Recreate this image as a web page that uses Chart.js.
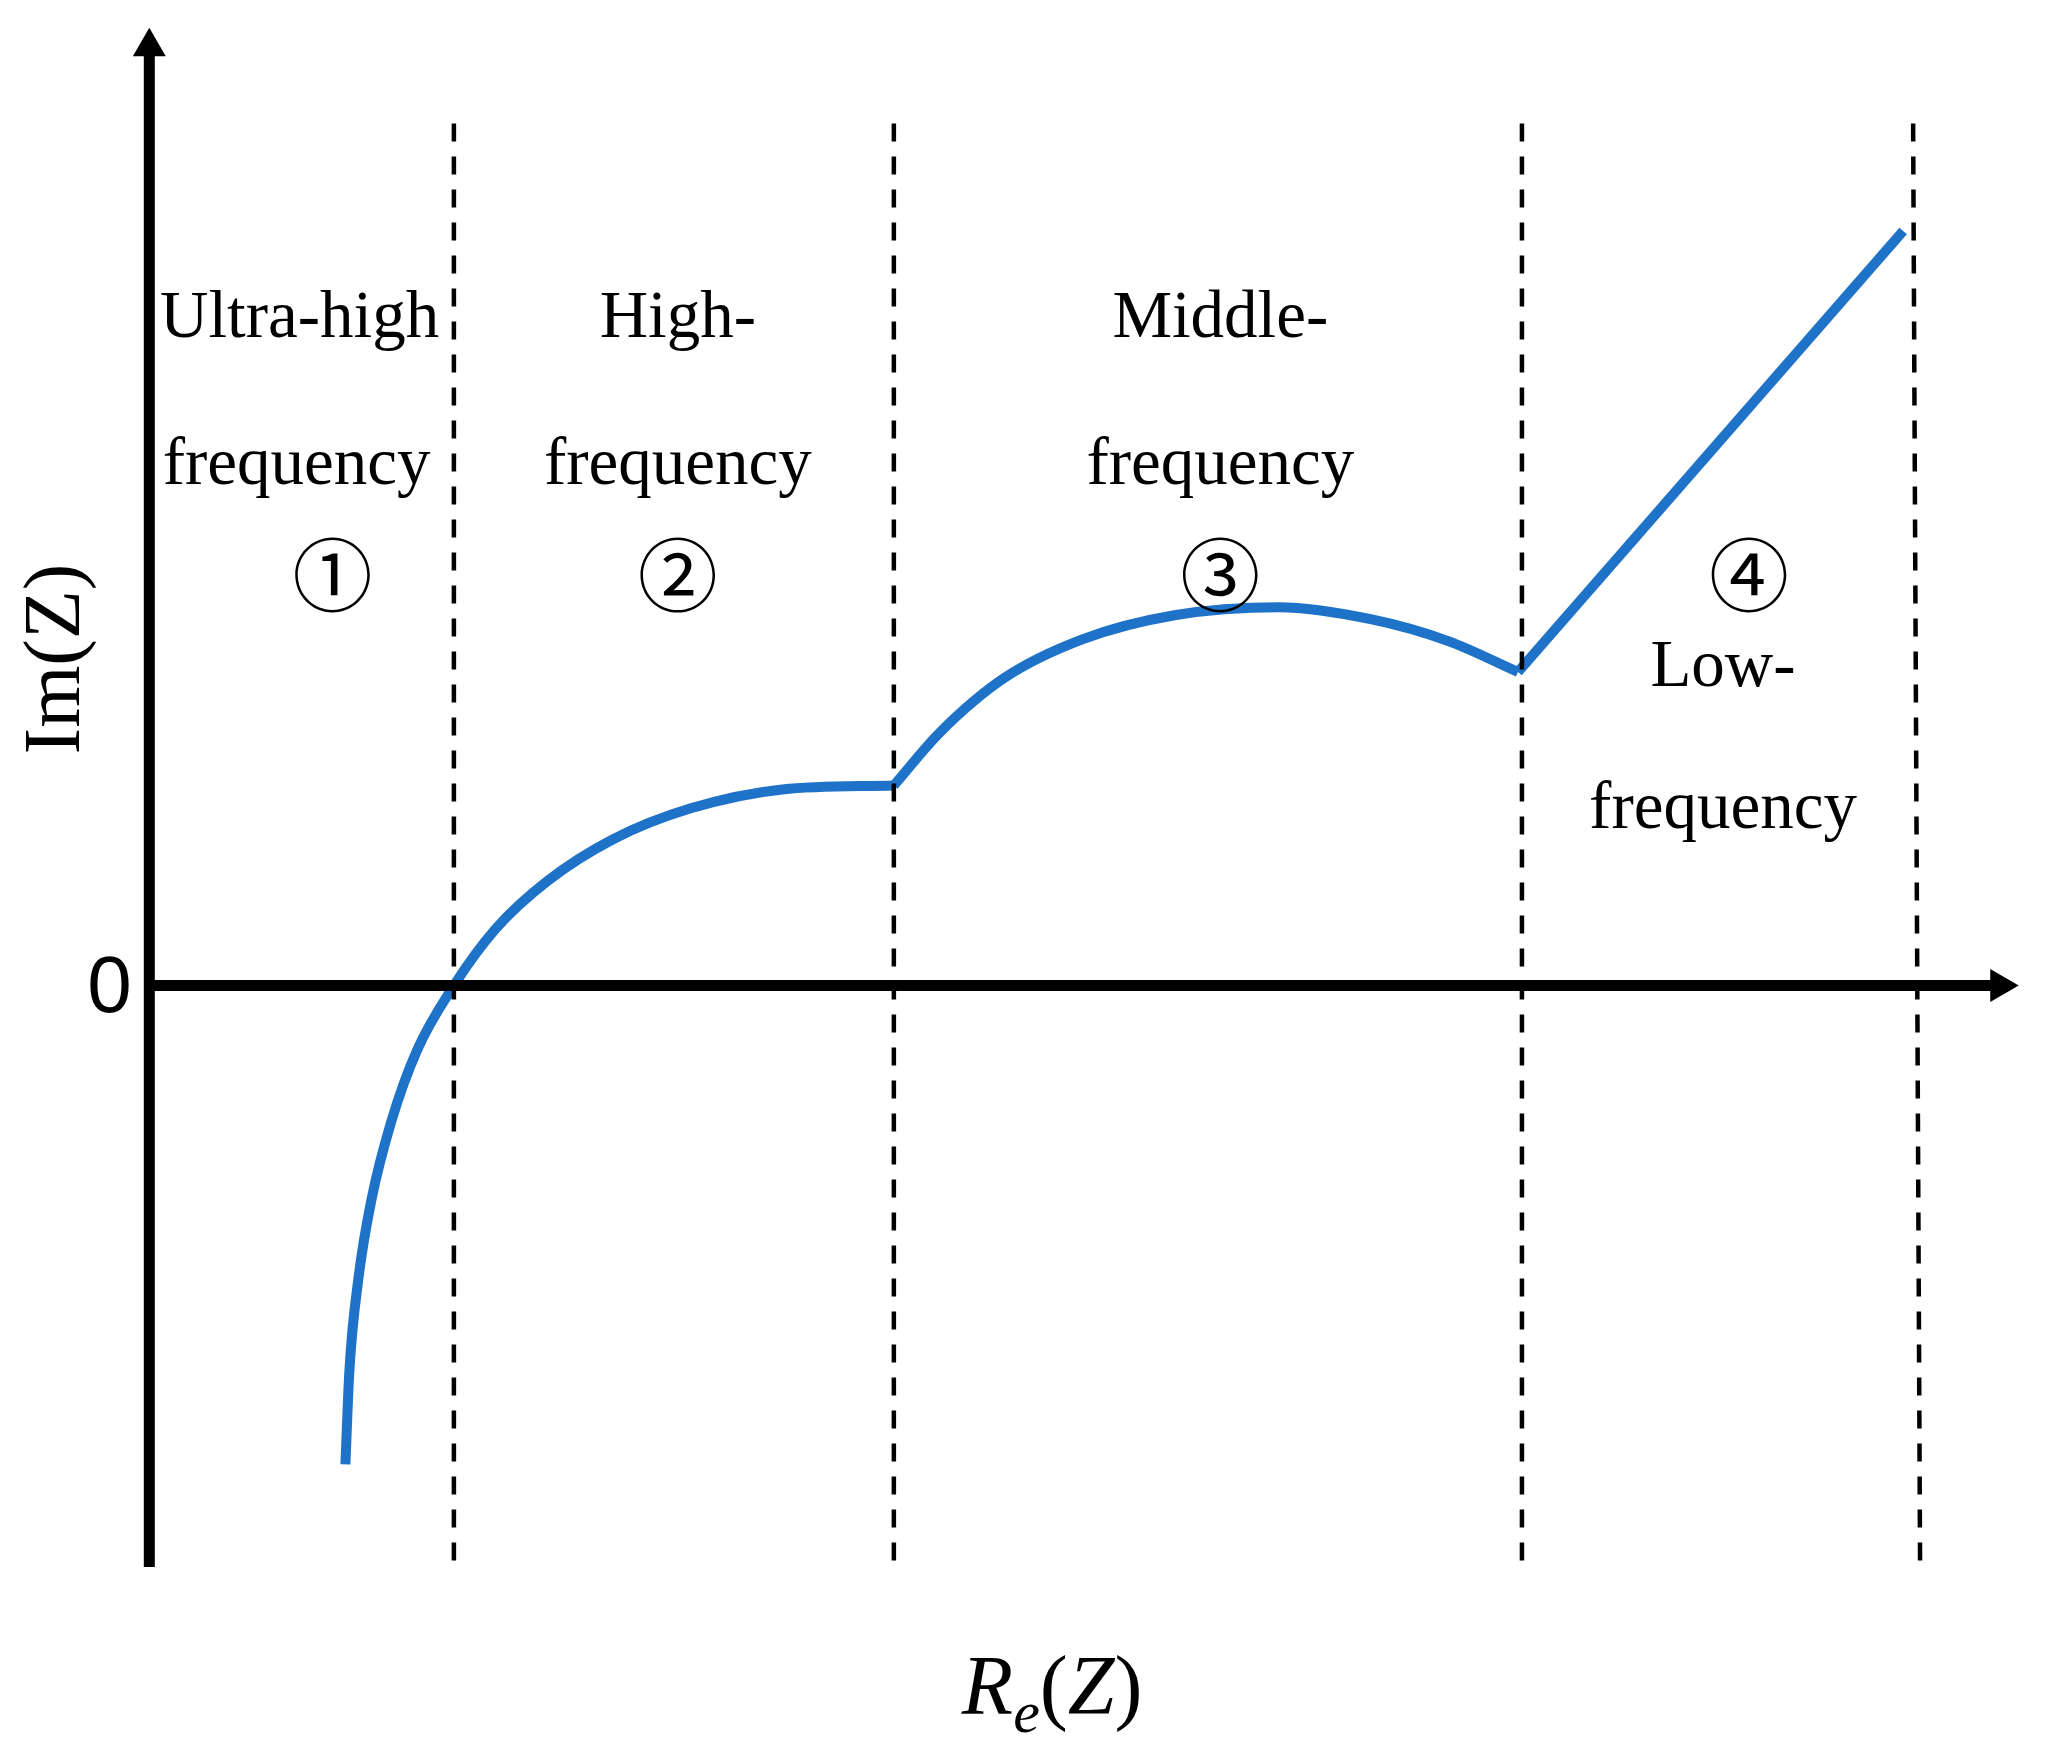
<!DOCTYPE html>
<html>
<head>
<meta charset="utf-8">
<script src="https://cdn.jsdelivr.net/npm/chart.js@4/dist/chart.umd.min.js"></script>
<style>
  html, body { margin: 0; padding: 0; background: #fff; overflow: hidden; }
  #wrap { position: relative; width: 2047px; height: 1761px; }
</style>
</head>
<body>
<div id="wrap"><canvas id="nyquist"></canvas></div>
<script>
// Nyquist sketch, arbitrary units (Re to the right, Im up)
var arc1Re = [1.97, 2.01, 2.10, 2.23, 2.43, 2.69, 3.06, 3.48, 4.00, 4.66, 5.44, 6.36, 7.48];
var arc1Im = [-4.81, -3.87, -2.95, -2.16, -1.37, -0.65, 0.00, 0.57, 1.05, 1.47, 1.78, 1.97, 2.01];
var arc2Re = [7.48, 7.94, 8.59, 9.38, 10.30, 11.35, 12.27, 13.05, 13.75];
var arc2Im = [2.01, 2.54, 3.09, 3.48, 3.72, 3.80, 3.68, 3.46, 3.15];
var tailRe = [13.75, 17.62];
var tailIm = [3.15, 7.58];

// region boundaries (dashed), top and bottom x can differ slightly
var boundTopRe = [3.06, 7.48, 13.79, 17.72];
var boundBotRe = [3.06, 7.48, 13.79, 17.79];
var boundIm = [8.66, -5.84];

// axes
var axisReEnd = 18.59;
var axisImEnds = [-5.84, 9.43];

// region text
var regionLines = [
  ['Ultra-high', 'frequency', '\u2460'],
  ['High-', 'frequency', '\u2461'],
  ['Middle-', 'frequency', '\u2462'],
  ['\u2463', 'Low-', 'frequency']
];
var zeroLabel = '0';

// where the text sits, in data units
var regionAnchors = [
  [[1.51, 6.69], [1.48, 5.21], [1.84, 4.13]],
  [[5.31, 6.69], [5.31, 5.21], [5.31, 4.13]],
  [[10.76, 6.69], [10.76, 5.21], [10.76, 4.13]],
  [[16.07, 4.13], [15.81, 3.19], [15.81, 1.76]]
];

function pts(xs, ys) {
  return xs.map(function (x, i) { return { x: x, y: ys[i] }; });
}

var BLUE = '#1e72c8';
var datasets = [];

// dashed boundaries
for (var i = 0; i < boundTopRe.length; i++) {
  datasets.push({
    data: [{ x: boundTopRe[i], y: boundIm[0] }, { x: boundBotRe[i], y: boundIm[1] }],
    borderColor: '#000',
    borderWidth: 4.5,
    borderDash: [18, 15],
    pointRadius: 0,
    tension: 0
  });
}

// axes with arrowheads as triangle points
datasets.push({
  data: [{ x: 0, y: axisImEnds[0] }, { x: 0, y: axisImEnds[1] }],
  borderColor: '#000',
  borderWidth: 11,
  pointRadius: [0, 19],
  pointStyle: 'triangle',
  pointBackgroundColor: '#000',
  pointBorderWidth: 0,
  pointRotation: 0
});
datasets.push({
  data: [{ x: 0, y: 0 }, { x: axisReEnd, y: 0 }],
  borderColor: '#000',
  borderWidth: 11,
  pointRadius: [0, 19],
  pointStyle: 'triangle',
  pointBackgroundColor: '#000',
  pointBorderWidth: 0,
  pointRotation: 90
});

// the curve
[[arc1Re, arc1Im, 'monotone'], [arc2Re, arc2Im, 'monotone'], [tailRe, tailIm, 'default']].forEach(function (s) {
  datasets.push({
    data: pts(s[0], s[1]),
    borderColor: BLUE,
    borderWidth: 10,
    pointRadius: 0,
    cubicInterpolationMode: s[2],
    tension: s[2] === 'default' ? 0 : 0.4,
    borderCapStyle: 'butt',
    borderJoinStyle: 'round'
  });
});

var textPlugin = {
  id: 'sketchText',
  afterDatasetsDraw: function (chart) {
    var ctx = chart.ctx;
    var xs = chart.scales.x, ys = chart.scales.y;
    var px = function (v) { return xs.getPixelForValue(v); };
    var py = function (v) { return ys.getPixelForValue(v); };
    ctx.save();
    ctx.fillStyle = '#000';
    ctx.textAlign = 'center';
    ctx.textBaseline = 'middle';

    regionLines.forEach(function (lines, r) {
      lines.forEach(function (t, k) {
        var a = regionAnchors[r][k];
        if (/[\u2460-\u2463]/.test(t)) {
          ctx.font = '80px "Noto Sans CJK JP"';
        } else {
          ctx.font = '67px "Liberation Serif"';
        }
        ctx.fillText(t, px(a[0]), py(a[1]));
      });
    });

    // zero on the Im axis
    ctx.font = '80px "Liberation Sans"';
    ctx.fillText(zeroLabel, px(-0.40), py(-0.04));

    // Im(Z), rotated
    ctx.save();
    ctx.translate(px(-0.92), py(3.28));
    ctx.rotate(-Math.PI / 2);
    ctx.font = '80px "Liberation Serif"';
    ctx.fillText('Im(Z)', 0, 0);
    ctx.restore();

    // R_e(Z)
    var parts = [
      ['R', 'italic 84px "Liberation Serif"', 0],
      ['e', 'italic 60px "Liberation Serif"', 18],
      ['(', '84px "Liberation Serif"', 0],
      ['Z', 'italic 84px "Liberation Serif"', 0],
      [')', '84px "Liberation Serif"', 0]
    ];
    var total = 0;
    parts.forEach(function (p) { ctx.font = p[1]; p.push(ctx.measureText(p[0]).width); total += p[3]; });
    var cx = px(9.07) - total / 2, base = py(-7.06) + 26;
    ctx.textAlign = 'left';
    ctx.textBaseline = 'alphabetic';
    parts.forEach(function (p) {
      ctx.font = p[1];
      ctx.fillText(p[0], cx, base + p[2]);
      cx += p[3];
    });
    ctx.restore();
  }
};

new Chart(document.getElementById('nyquist'), {
  type: 'scatter',
  data: { datasets: datasets },
  options: {
    responsive: true,
    maintainAspectRatio: false,
    devicePixelRatio: 1,
    animation: false,
    showLine: true,
    layout: { padding: 0, autoPadding: false },
    plugins: { legend: { display: false }, tooltip: { enabled: false } },
    elements: { line: { fill: false } },
    scales: {
      x: { type: 'linear', min: -1.50, max: 19.065, display: false },
      y: { type: 'linear', min: -7.79, max: 9.90, display: false }
    }
  },
  plugins: [textPlugin]
});
</script>
</body>
</html>
